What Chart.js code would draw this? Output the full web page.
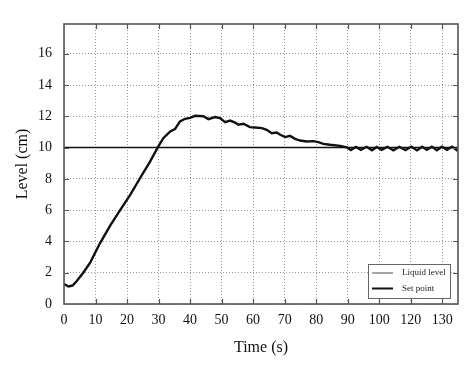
<!DOCTYPE html>
<html>
<head>
<meta charset="utf-8">
<script src="https://cdn.jsdelivr.net/npm/chart.js@4.4.0/dist/chart.umd.min.js"></script>
<style>
  body { margin: 0; background: #fff; }
  #wrap { width: 474px; height: 365px; }
</style>
</head>
<body>
<div id="wrap"><canvas id="levelChart" width="474" height="365"></canvas></div>
<script>
// time axis values (axis units) and measured level (cm)
const timeValues = [0, 1.4, 2.7, 4.0, 6.1, 8.3, 9.8, 11.4, 14.6, 17.8, 21.0, 24.1, 27.3, 29.7, 31.5,
    33.7, 35.2, 36.8, 38.4, 40.0, 41.6, 44.2, 45.8, 47.9, 49.5, 51.1, 52.7, 54.3, 55.3, 56.9,
    59.0, 60.6, 62.8, 64.3, 65.9, 67.5, 68.6, 70.2, 71.7, 73.3, 74.9, 77.0, 79.1, 80.7, 82.3,
    84.4, 87.6, 89.7, 91.0, 92.6, 94.2, 96.0, 97.7, 99.2, 100.8, 102.6, 104.5, 106.4, 108.3,
    110.2, 112.0, 113.6, 115.1, 116.7, 118.3, 119.9, 121.5, 123.1, 124.7, 125];
const levelValues = [1.28, 1.12, 1.18, 1.45, 2.0, 2.64, 3.24, 3.88, 5.0, 6.0, 6.98, 8.04, 9.1, 10.0, 10.6,
    11.03, 11.18, 11.67, 11.84, 11.9, 12.03, 12.0, 11.82, 11.95, 11.88, 11.63, 11.73, 11.6, 11.46, 11.52,
    11.31, 11.28, 11.24, 11.14, 10.92, 10.96, 10.82, 10.67, 10.75, 10.56, 10.45, 10.39, 10.41, 10.35, 10.24,
    10.18, 10.11, 10.02, 9.84, 10.04, 9.86, 10.05, 9.83, 10.04, 9.85, 10.05, 9.82, 10.05, 9.84,
    10.06, 9.82, 10.05, 9.85, 10.06, 9.83, 10.05, 9.86, 10.06, 9.82, 9.85];
const setPointTimes = [0, 125];
const setPointValues = [10, 10];

const xTickValues = [0, 10, 20, 30, 40, 50, 60, 70, 80, 90, 100, 110, 120];
const xTickLabels = ['0', '10', '20', '30', '40', '50', '60', '70', '80', '90', '100', '120', '130'];
const yTickValues = [0, 2, 4, 6, 8, 10, 12, 14, 16];
const yTickLabels = ['0', '2', '4', '6', '8', '10', '12', '14', '16'];

const serif = '"Liberation Serif", "Times New Roman", serif';

// frame + inward tick marks on all four sides
const framePlugin = {
    id: 'frame',
    afterDatasetsDraw(chart) {
        const { ctx, chartArea: a, scales } = chart;
        ctx.save();
        ctx.strokeStyle = '#555';
        ctx.lineWidth = 1.2;
        ctx.beginPath();
        scales.x.ticks.forEach(t => {
            if (t.value <= 0) return;
            const px = Math.round(scales.x.getPixelForValue(t.value)) + 0.5;
            ctx.moveTo(px, a.bottom); ctx.lineTo(px, a.bottom - 5);
            ctx.moveTo(px, a.top); ctx.lineTo(px, a.top + 5);
        });
        scales.y.ticks.forEach(t => {
            if (t.value <= 0) return;
            const py = Math.round(scales.y.getPixelForValue(t.value)) + 0.5;
            ctx.moveTo(a.left, py); ctx.lineTo(a.left + 5, py);
            ctx.moveTo(a.right, py); ctx.lineTo(a.right - 5, py);
        });
        ctx.stroke();
        ctx.lineWidth = 1.6;
        ctx.strokeRect(a.left, a.top, a.right - a.left, a.bottom - a.top);
        ctx.restore();
    }
};

// small boxed legend in the lower right corner
const boxLegend = {
    id: 'boxLegend',
    afterDraw(chart, args, opts) {
        const { ctx } = chart;
        const x = 368, y = 264, w = 82, h = 34;
        ctx.save();
        ctx.fillStyle = '#fff';
        ctx.fillRect(x, y, w, h);
        ctx.strokeStyle = '#666';
        ctx.lineWidth = 1;
        ctx.strokeRect(x + 0.5, y + 0.5, w, h);
        ctx.font = '9px ' + serif;
        ctx.textBaseline = 'middle';
        chart.data.datasets.forEach((ds, i) => {
            const ly = y + 9 + i * 15.5;
            ctx.strokeStyle = opts.colors[i];
            ctx.lineWidth = opts.widths[i];
            ctx.beginPath();
            ctx.moveTo(x + 4, ly);
            ctx.lineTo(x + 25, ly);
            ctx.stroke();
            ctx.fillStyle = '#222';
            ctx.fillText(ds.label, x + 34, ly);
        });
        ctx.restore();
    }
};

const ctx = document.getElementById('levelChart').getContext('2d');
const levelChart = new Chart(ctx, {
    type: 'line',
    data: {
        datasets: [{
            label: 'Liquid level',
            data: timeValues.map((t, i) => ({ x: t, y: levelValues[i] })),
            borderColor: '#111',
            borderWidth: 2.4,
            pointRadius: 0,
            tension: 0
        }, {
            label: 'Set point',
            data: setPointTimes.map((t, i) => ({ x: t, y: setPointValues[i] })),
            borderColor: '#111',
            borderWidth: 1.5,
            pointRadius: 0
        }]
    },
    options: {
        responsive: false,
        animation: false,
        layout: { padding: { top: 24, right: 16, left: 0, bottom: 0 } },
        plugins: {
            legend: { display: false },
            tooltip: { enabled: false },
            boxLegend: { colors: ['#888', '#111'], widths: [1.5, 2] }
        },
        scales: {
            x: {
                type: 'linear',
                min: 0,
                max: 125,
                afterFit(scale) { scale.height = 61; },
                afterBuildTicks(scale) { scale.ticks = xTickValues.map(v => ({ value: v })); },
                ticks: {
                    autoSkip: false,
                    padding: 8,
                    color: '#111',
                    maxRotation: 0,
                    font: { family: serif, size: 14 },
                    callback: (v, i) => xTickLabels[i]
                },
                grid: { color: '#9a9a9a', lineWidth: 1, drawTicks: false },
                border: { display: false, dash: [1, 2] },
                title: {
                    display: true,
                    text: 'Time (s)',
                    color: '#111',
                    font: { family: serif, size: 16 },
                    padding: { top: 0, bottom: 8 }
                }
            },
            y: {
                min: 0,
                max: 17.9,
                afterFit(scale) { scale.width = 64; },
                afterBuildTicks(scale) { scale.ticks = yTickValues.map(v => ({ value: v })); },
                ticks: {
                    autoSkip: false,
                    padding: 12,
                    color: '#111',
                    font: { family: serif, size: 14 },
                    callback: (v, i) => yTickLabels[i]
                },
                grid: { color: '#9a9a9a', lineWidth: 1, drawTicks: false },
                border: { display: false, dash: [1, 2] },
                title: {
                    display: true,
                    text: 'Level (cm)',
                    color: '#111',
                    font: { family: serif, size: 16 },
                    padding: { top: 13, bottom: 0 }
                }
            }
        }
    },
    plugins: [framePlugin, boxLegend]
});
</script>
</body>
</html>
